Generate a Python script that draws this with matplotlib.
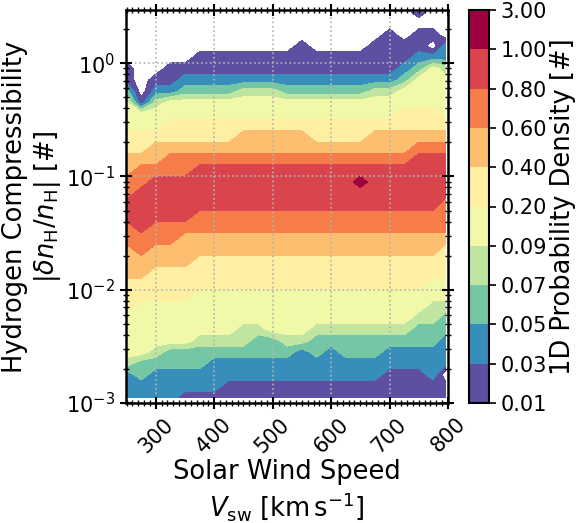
import numpy as np
import matplotlib
matplotlib.use("Agg")
import matplotlib.pyplot as plt
from matplotlib.colors import BoundaryNorm
from matplotlib.ticker import MultipleLocator, LogLocator, NullFormatter

# ---- data -------------------------------------------------------------
# solar-wind speed bin centres [km/s]
speed = [250, 275, 300, 325, 350, 375, 400, 425, 450, 475, 500, 525,
         550, 575, 600, 625, 650, 675, 700, 725, 750, 775, 795]
# log10 compressibility bin centres (bottom -> top)
log_compress = np.round(np.linspace(-2.95, 0.45, 35), 2)

# contour levels of the 1D probability density
levels = [0.01, 0.03, 0.05, 0.07, 0.09, 0.20, 0.40, 0.60, 0.80, 1.00, 3.00]

# density read for each band code
band_density = {"0": 0.0, "1": 0.02, "2": 0.04, "3": 0.06, "4": 0.08,
                "5": 0.10, "6": 0.30, "7": 0.50, "8": 0.70, "9": 0.90,
                "A": 1.10}

# one string per speed column, rows from bottom (1e-3) to top
column_bands = [
    "22245555666777889988776655531100000",  # 250
    "22335555566778899998876655100000000",  # 275
    "22234555566677889999877655421000000",  # 300
    "22233555566677889999887665521100000",  # 325
    "12233555566677789999887665532100000",  # 350
    "12233455556667788999987665532110000",  # 375
    "12223455556667788999987665532110000",  # 400
    "11223455556667788999987665532110000",  # 425
    "11223445556667788999987765542110000",  # 450
    "11223345556667788999987765542110000",  # 475
    "11223355556667788999987765542110000",  # 500
    "11223455556667788999987765532110000",  # 525
    "11222455556667788999987765532111000",  # 550
    "11223345556667788999987665532110000",  # 575
    "11222345556667788999987665532110000",  # 600
    "11223345556667788999987665532110000",  # 625
    "1122334555666778899A987665532110000",  # 650
    "11223345556667788999987765542111000",  # 675
    "11122345556667788999987765542111100",  # 700
    "11122345556667788999987766553211000",  # 725
    "11122334556667788999998766555321101",  # 750
    "11222334455667788999998766555520100",  # 775
    "11022233455666788899998765555422000",  # 795
]

density = np.array([[band_density[c] for c in col] for col in column_bands]).T

# ---- figure -----------------------------------------------------------
plt.rcParams["font.family"] = ["DejaVu Sans"]
fig = plt.figure(figsize=(5.8, 5.23), dpi=100)
ax = fig.add_axes([126 / 580, 1 - 403 / 523, 322 / 580, 393 / 523])
cax = fig.add_axes([469 / 580, 1 - 403 / 523, 20 / 580, 393 / 523])

cmap = plt.get_cmap("Spectral_r")
norm = BoundaryNorm(levels, ncolors=cmap.N)

ax.set_yscale("log")
cs = ax.contourf(speed, 10.0 ** log_compress, density, levels=levels,
                 cmap=cmap, norm=norm)

ax.set_xlim(249, 800)
ax.set_ylim(1e-3, 2.95)

ax.xaxis.set_major_locator(MultipleLocator(100))
ax.xaxis.set_minor_locator(MultipleLocator(10))
ax.yaxis.set_major_locator(LogLocator(base=10, numticks=10))
ax.yaxis.set_minor_locator(LogLocator(base=10, subs=np.arange(2, 10), numticks=20))
ax.yaxis.set_minor_formatter(NullFormatter())

ax.tick_params(which="both", direction="inout", top=True, right=True,
               labelsize=15)
ax.tick_params(which="major", length=9, width=1.5)
ax.tick_params(which="minor", length=5, width=1.0)
for lab in ax.get_xticklabels():
    lab.set_rotation(45)
    lab.set_ha("center")
for sp in ax.spines.values():
    sp.set_linewidth(1.8)

ax.grid(True, which="major", linestyle=":", color="0.7", linewidth=1.2)

ax.set_xlabel("Solar Wind Speed\n$V_\\mathrm{sw}$ [$\\mathrm{km\\,s^{-1}}$]",
              fontsize=18.5, labelpad=2)
ax.set_ylabel("Hydrogen Compressibility\n$|\\delta n_\\mathrm{H}/n_\\mathrm{H}|$ [#]",
              fontsize=18.5, labelpad=2)

cb = fig.colorbar(cs, cax=cax, ticks=levels)
cb.ax.set_yticklabels([f"{v:.2f}" for v in levels])
cb.ax.tick_params(labelsize=15, length=5, width=1.2)
cb.outline.set_linewidth(1.5)
cb.set_label("1D Probability Density [#]", fontsize=18.5, labelpad=2)

fig.savefig("out.png", dpi=100)
